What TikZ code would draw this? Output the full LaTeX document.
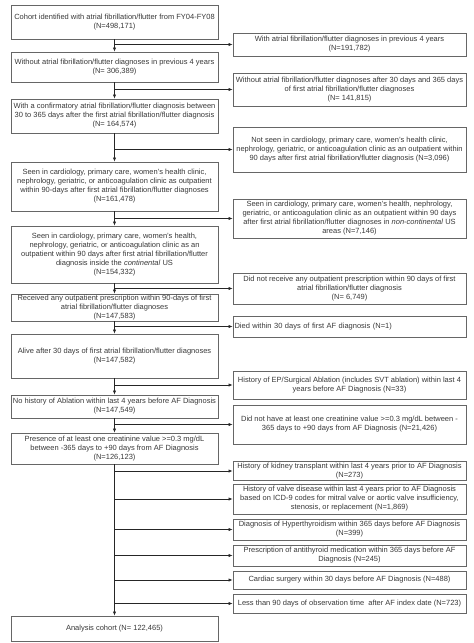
\documentclass[tikz,border=0pt]{standalone}
\usepackage{fontspec}
\setmainfont{Liberation Sans}
\usetikzlibrary{arrows.meta}
\begin{document}
\begin{tikzpicture}[x=1pt,y=-1pt,
 box/.style={draw=black!60, line width=0.7pt, text=black!78, font=\fontsize{7.5}{9}\selectfont, align=center, inner xsep=1pt, inner ysep=0.5pt, anchor=center},
 lbox/.style={box, minimum width=207pt},
 rbox/.style={box, minimum width=233pt},
 flow/.style={draw=black!85, line width=0.65pt, -{Latex[length=4pt,width=3.2pt]}}
]
\useasboundingbox (0,0) rectangle (474,643);
% left column
\node[lbox, minimum height=34pt] (L1) at (114.5,22) {Cohort identified with atrial fibrillation/flutter from FY04-FY08\\(N=498,171)};
\node[lbox, minimum height=30pt] (L2) at (114.5,67) {Without atrial fibrillation/flutter diagnoses in previous 4 years\\(N= 306,389)};
\node[lbox, minimum height=34pt] (L3) at (114.5,116) {With a confirmatory atrial fibrillation/flutter diagnosis between\\30 to 365 days after the first atrial fibrillation/flutter diagnosis\\(N= 164,574)};
\node[lbox, minimum height=49pt] (L4) at (114.5,186.5) {Seen in cardiology, primary care, women’s health clinic,\\nephrology, geriatric, or anticoagulation clinic as outpatient\\within 90-days after first atrial fibrillation/flutter diagnoses\\(N=161,478)};
\node[lbox, minimum height=57pt] (L5) at (114.5,254.5) {Seen in cardiology, primary care, women’s health,\\nephrology, geriatric, or anticoagulation clinic as an\\outpatient within 90 days after first atrial fibrillation/flutter\\diagnosis inside the \textit{continental} US\\(N=154,332)};
\node[lbox, minimum height=27pt] (L6) at (114.5,307.5) {Received any outpatient prescription within 90-days of first\\atrial fibrillation/flutter diagnoses\\(N=147,583)};
\node[lbox, minimum height=44pt] (L7) at (114.5,356) {Alive after 30 days of first atrial fibrillation/flutter diagnoses\\(N=147,582)};
\node[lbox, minimum height=23pt] (L8) at (114.5,406.5) {No history of Ablation within last 4 years before AF Diagnosis\\(N=147,549)};
\node[lbox, minimum height=31pt] (L9) at (114.5,448.5) {Presence of at least one creatinine value >=0.3 mg/dL\\between -365 days to +90 days from AF Diagnosis\\(N=126,123)};
\node[lbox, minimum height=25pt] (L10) at (114.5,628.5) {Analysis cohort (N= 122,465)};
% right column
\node[rbox, minimum height=23pt] (R1) at (349.5,44.5) {With atrial fibrillation/flutter diagnoses in previous 4 years\\(N=191,782)};
\node[rbox, minimum height=33pt] (R2) at (349.5,89.5) {Without atrial fibrillation/flutter diagnoses after 30 days and 365 days\\of first atrial fibrillation/flutter diagnoses\\(N= 141,815)};
\node[rbox, minimum height=45pt] (R3) at (349.5,149.5) {Not seen in cardiology, primary care, women’s health clinic,\\nephrology, geriatric, or anticoagulation clinic as an outpatient within\\90 days after first atrial fibrillation/flutter diagnosis (N=3,096)};
\node[rbox, minimum height=39pt] (R4) at (349.5,218.5) {Seen in cardiology, primary care, women’s health, nephrology,\\geriatric, or anticoagulation clinic as an outpatient within 90 days\\after first atrial fibrillation/flutter diagnoses in \textit{non-continental} US\\areas (N=7,146)};
\node[rbox, minimum height=31pt] (R5) at (349.5,288.5) {Did not receive any outpatient prescription within 90 days of first\\atrial fibrillation/flutter diagnosis\\(N= 6,749)};
\node[rbox, minimum height=21pt, text width=230pt, align=left] (R6) at (349.5,326.5) {Died within 30 days of first AF diagnosis (N=1)};
\node[rbox, minimum height=28pt] (R7) at (349.5,385) {History of EP/Surgical Ablation (includes SVT ablation) within last 4\\years before AF Diagnosis (N=33)};
\node[rbox, minimum height=39pt] (R8) at (349.5,424.5) {Did not have at least one creatinine value >=0.3 mg/dL between -\\365 days to +90 days from AF Diagnosis (N=21,426)};
\node[rbox, minimum height=18.5pt] (R9) at (349.5,471) {History of kidney transplant within last 4 years prior to AF Diagnosis\\(N=273)};
\node[rbox, minimum height=30pt] (R10) at (349.5,499) {History of valve disease within last 4 years prior to AF Diagnosis\\based on ICD-9 codes for mitral valve or aortic valve insufficiency,\\stenosis, or replacement (N=1,869)};
\node[rbox, minimum height=21pt] (R11) at (349.5,529.5) {Diagnosis of Hyperthyroidism within 365 days before AF Diagnosis\\(N=399)};
\node[rbox, minimum height=21pt] (R12) at (349.5,555.5) {Prescription of antithyroid medication within 365 days before AF\\Diagnosis (N=245)};
\node[rbox, minimum height=18pt] (R13) at (349.5,580) {Cardiac surgery within 30 days before AF Diagnosis (N=488)};
\node[rbox, minimum height=19pt] (R14) at (349.5,603.5) {Less than 90 days of observation time~ after AF index date (N=723)};
% trunk arrows
\foreach \a/\b in {L1/L2,L2/L3,L3/L4,L4/L5,L5/L6,L6/L7,L7/L8,L8/L9,L9/L10}
  \draw[flow] (\a.south) -- (\b.north);
% branch arrows
\foreach \a/\b in {L1/R1,L2/R2,L3/R3,L4/R4,L5/R5,L6/R6,L7/R7,L8/R8,L9/R9,L9/R10,L9/R11,L9/R12,L9/R13,L9/R14}
  \draw[flow] (\a.south |- \b.west) -- (\b.west);
\end{tikzpicture}
\end{document}
